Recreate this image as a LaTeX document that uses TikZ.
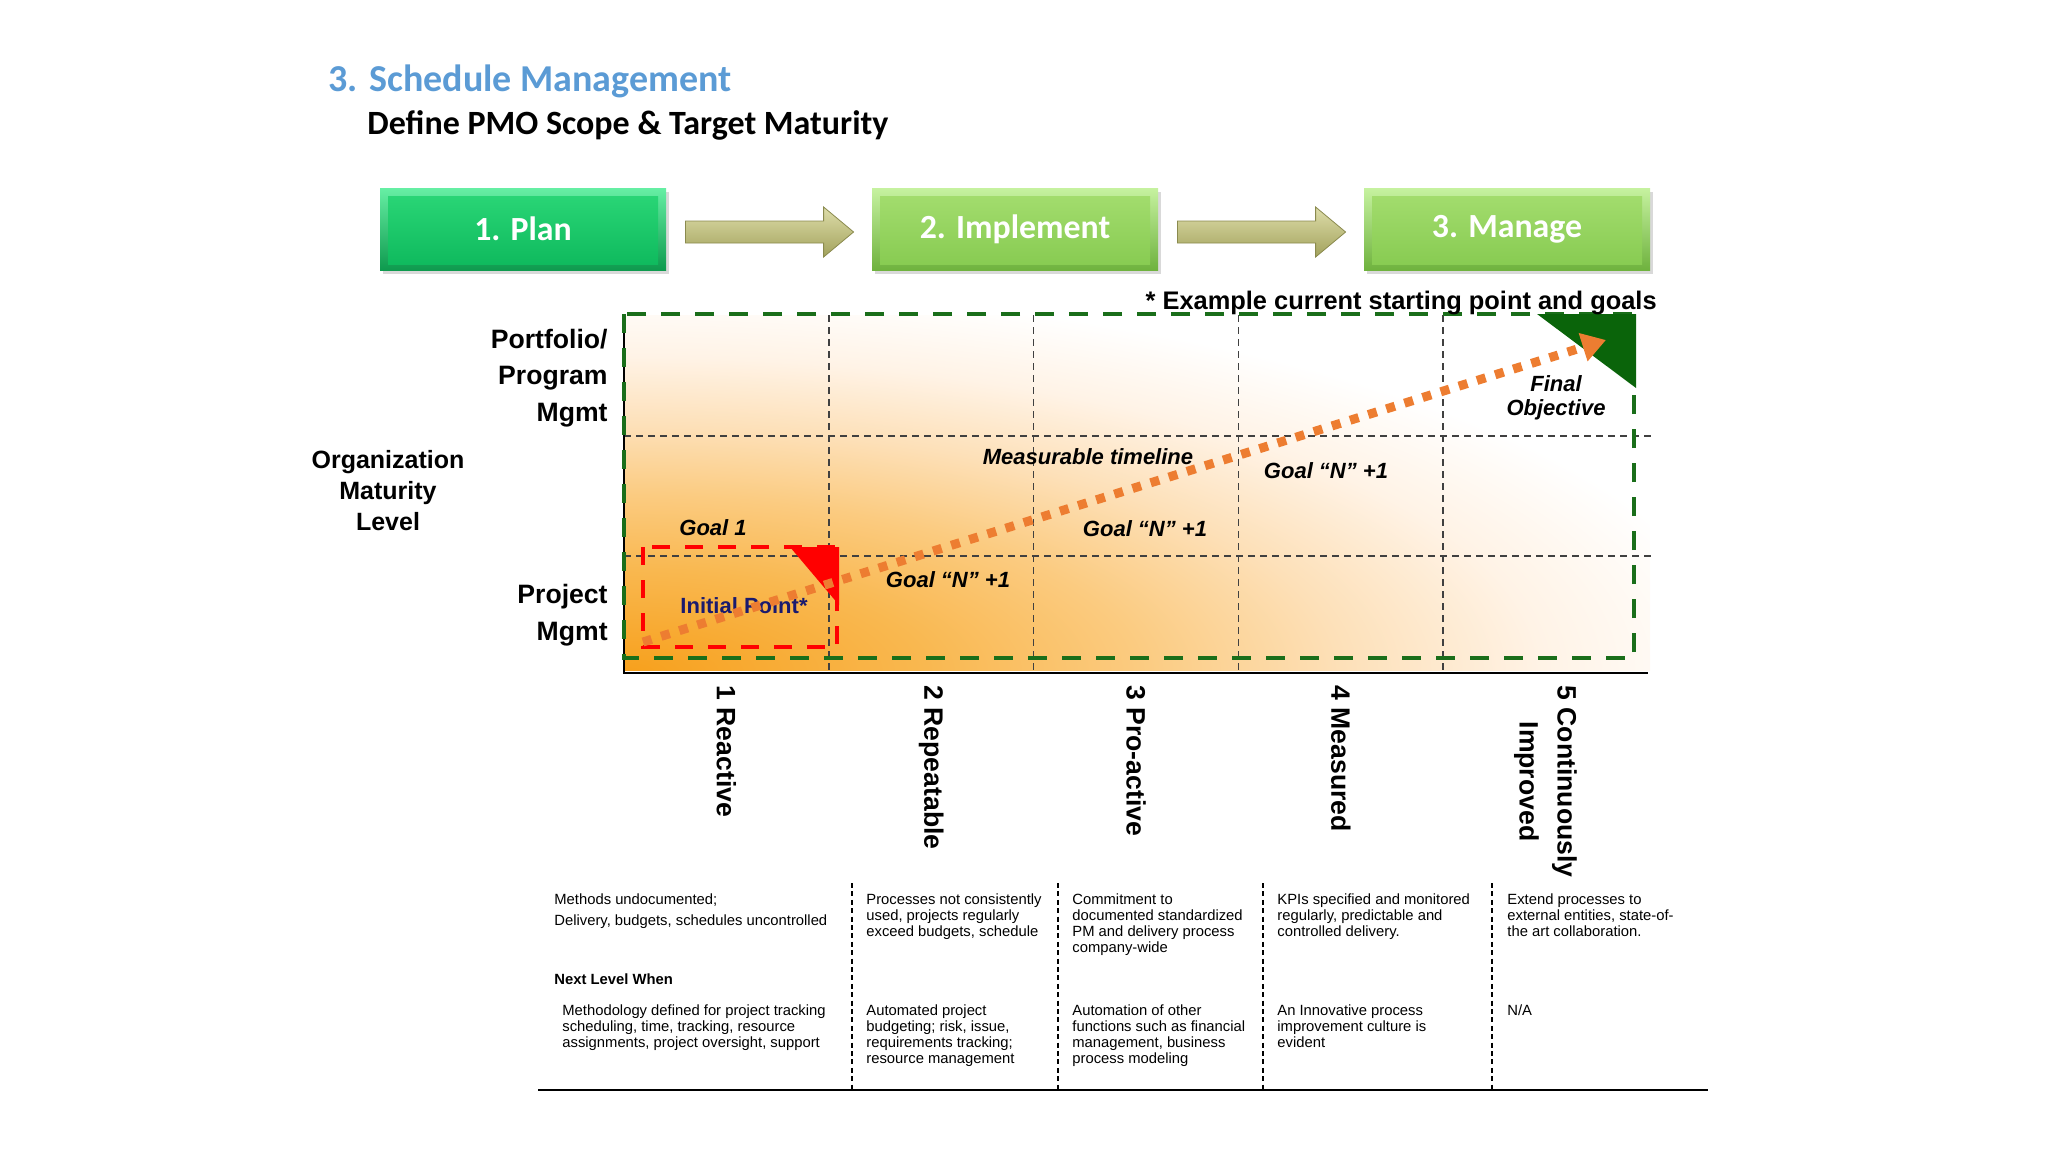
\documentclass[tikz,border=0pt]{standalone}
\usepackage{fontspec}
\setmainfont{Liberation Sans}
\newfontfamily\calibri{Carlito}
\usetikzlibrary{calc,arrows.meta,shadows}

\definecolor{titleblue}{HTML}{5B9BD5}
\definecolor{planRim}{HTML}{66EFA4}
\definecolor{planRimBot}{HTML}{0E9A4E}
\definecolor{planTop}{HTML}{2CD878}
\definecolor{planBot}{HTML}{0DB85C}
\definecolor{stageRim}{HTML}{C6F2A0}
\definecolor{stageRimBot}{HTML}{6FB23E}
\definecolor{stageTop}{HTML}{A5DE70}
\definecolor{stageBot}{HTML}{86CA50}
\definecolor{khakiTop}{HTML}{DEDDAA}
\definecolor{khakiBot}{HTML}{A2A25C}
\definecolor{khakiLine}{HTML}{8A8A4E}
\definecolor{goalgreen}{HTML}{1A6E1A}
\definecolor{objgreen}{HTML}{0A640A}
\definecolor{pathorange}{HTML}{ED7D31}
\definecolor{glowA}{HTML}{F7A01C}
\definecolor{glowB}{HTML}{F9B850}
\definecolor{glowC}{HTML}{FBCB80}
\definecolor{glowD}{HTML}{FDE0B8}
\definecolor{glowE}{HTML}{FFF3E6}
\definecolor{navytext}{HTML}{1A1A6E}

\pgfdeclareradialshading{maturityglow}{\pgfpoint{0bp}{0bp}}{color(0bp)=(glowA); color(6.75bp)=(glowB); color(11.5bp)=(glowC); color(16bp)=(glowD); color(20.5bp)=(glowE); color(25bp)=(white); color(50bp)=(white)}

% block arrow between two stage boxes
\newcommand{\stagearrow}[2]{%
  \shade[top color=khakiTop, bottom color=khakiBot, draw=khakiLine, line width=0.4pt]
    ($(#1.east)+(19,-8)$) -- ($(#2.west)+(-48,-8)$) -- ($(#2.west)+(-48,-22)$)
    -- ($(#2.west)+(-18,3)$) -- ($(#2.west)+(-48,28)$) -- ($(#2.west)+(-48,14)$)
    -- ($(#1.east)+(19,14)$) -- cycle;}

\begin{document}
\begin{tikzpicture}[x=0.5pt, y=-0.5pt,
    stagebox/.style={minimum width=143pt, minimum height=41pt, inner sep=0pt,
        text=white, font=\calibri\bfseries\fontsize{16.9}{20}\selectfont,
        drop shadow={opacity=0.3, shadow xshift=1.5pt, shadow yshift=-1.8pt}},
    planfill/.style={top color=planRim, bottom color=planRimBot,
        path picture={\shade[top color=planTop, bottom color=planBot]
            ($(path picture bounding box.north west)+(8,8)$) rectangle
            ($(path picture bounding box.south east)+(-8,-6)$);}},
    stagefill/.style={top color=stageRim, bottom color=stageRimBot,
        path picture={\shade[top color=stageTop, bottom color=stageBot]
            ($(path picture bounding box.north west)+(8,8)$) rectangle
            ($(path picture bounding box.south east)+(-8,-6)$);}},
    gridline/.style={dash pattern=on 3.3pt off 2.7pt, line width=0.8pt, black!75},
    goalframe/.style={draw=goalgreen, line width=2.3pt, dash pattern=on 9.7pt off 7.3pt},
    startframe/.style={draw=red, line width=2.3pt, dash pattern=on 9pt off 7.5pt},
    timeline/.style={pathorange, line width=4.5pt, dash pattern=on 4.5pt off 5pt,
        -{Triangle[length=12pt, width=14pt]}},
    sidelabel/.style={anchor=east, align=right, inner sep=0pt, font=\bfseries\fontsize{13.3}{18.3}\selectfont},
    levellabel/.style={rotate=-90, anchor=west, align=center, inner sep=0pt,
        font=\bfseries\fontsize{13.3}{19}\selectfont},
    goaltext/.style={inner sep=0pt, font=\bfseries\itshape\fontsize{11}{12}\selectfont},
    cell/.style={anchor=north west, align=left, inner sep=0pt, font=\fontsize{7.4}{8.1}\selectfont},
    celldivider/.style={line width=0.9pt, dash pattern=on 2.5pt off 1.7pt}]

    \useasboundingbox (0,0) rectangle (2048,1152);

    % heading
    \node[anchor=west, inner sep=0pt, text=titleblue,
        font=\calibri\bfseries\fontsize{19}{22}\selectfont] (title) at (328,81) {3. Schedule Management};
    \node[anchor=west, inner sep=0pt,
        font=\calibri\bfseries\fontsize{17}{20}\selectfont] (subtitle) at (367,125) {Define PMO Scope \& Target Maturity};

    % stages
    \node[stagebox, planfill] (plan) at (523,229) {1. Plan};
    \node[stagebox, stagefill] (implement) at (1015,229) {2. Implement};
    \node[stagebox, stagefill] (manage) at (1507,229) {3. Manage};
    \stagearrow{plan}{implement}
    \stagearrow{implement}{manage}

    % maturity chart
    \coordinate (SW) at (624,673);
    \coordinate (NE) at (1648,315);
    \begin{scope}
        \clip (624,315) rectangle (1650,670);
        \fill[white] (624,315) rectangle (1650,670);
        \shade[shading=maturityglow] (SW) ellipse [x radius=560pt, y radius=193pt];
    \end{scope}

    \foreach \i in {1,...,4}
        \draw[gridline] ({624+204.8*\i},315) -- ({624+204.8*\i},673);
    \foreach \y in {436,556}
        \draw[gridline] (624,\y) -- (1652,\y);
    \draw[line width=1.2pt] (624,315) -- (SW) -- (SW -| NE);

    \draw[goalframe] (624,314) rectangle (1634,658);
    \fill[objgreen] (1537,314) -- (1636,314) -- (1636,388) -- cycle;
    \draw[startframe] (643,547) rectangle (837,647);
    \fill[red] (790,547) -- (839,547) -- (839,605) -- cycle;

    \node[anchor=east, inner sep=0pt, font=\bfseries\fontsize{12.7}{15}\selectfont]
        (example) at (1657,303) {* Example current starting point and goals};

    \node[goaltext] (goal1) at (713,528) {Goal 1};
    \node[inner sep=0pt, text=navytext, font=\bfseries\fontsize{11}{12}\selectfont]
        (initial) at (744,606) {Initial Point*};
    \node[goaltext] (goalA) at (948,580) {Goal “N” +1};
    \node[goaltext] (goalB) at (1145,529) {Goal “N” +1};
    \node[goaltext] (goalC) at (1326,471) {Goal “N” +1};
    \node[goaltext] (measurable) at (1088,457) {Measurable timeline};
    \node[goaltext, align=center] (final) at (1556,398) {Final\\Objective};

    \coordinate (start) at (643,642);
    \coordinate (target) at (1606,340);
    \draw[timeline] (start) -- (target);

    % axis labels
    \node[sidelabel] (portfolio) at (608,378) {Portfolio/\\Program\\Mgmt};
    \node[sidelabel] (project) at (608,615) {Project\\Mgmt};
    \node[align=center, inner sep=0pt, font=\bfseries\fontsize{12.5}{15.5}\selectfont]
        (orglevel) at (388,491) {Organization\\Maturity\\Level};

    \foreach \lab [count=\i] in {1 Reactive, 2 Repeatable, 3 Pro-active, 4 Measured}
        \node[levellabel] (level\i) at ({624+204.8*\i-102.4},685) {\lab};
    \node[levellabel] (level5) at (1545.6,685) {5 Continuously\\Improved};

    % level descriptions
    \node[cell] (desc1) at (554,893) {Methods undocumented;\\[2.4pt]Delivery, budgets, schedules uncontrolled};
    \node[cell, font=\bfseries\fontsize{7.4}{8.1}\selectfont] (nextlevel) at (554,973) {Next Level When};
    \node[cell] (next1) at (562,1004) {Methodology defined for project tracking\\scheduling, time, tracking, resource\\assignments, project oversight, support};
    \node[cell] (desc2) at (866,893) {Processes not consistently\\used, projects regularly\\exceed budgets, schedule};
    \node[cell] (next2) at (866,1004) {Automated project\\budgeting; risk, issue,\\requirements tracking;\\resource management};
    \node[cell] (desc3) at (1072,893) {Commitment to\\documented standardized\\PM and delivery process\\company-wide};
    \node[cell] (next3) at (1072,1004) {Automation of other\\functions such as financial\\management, business\\process modeling};
    \node[cell] (desc4) at (1277,893) {KPIs specified and monitored\\regularly, predictable and\\controlled delivery.};
    \node[cell] (next4) at (1277,1004) {An Innovative process\\improvement culture is\\evident};
    \node[cell] (desc5) at (1507,893) {Extend processes to\\external entities, state-of-\\the art collaboration.};
    \node[cell] (next5) at (1507,1004) {N/A};

    \foreach \x in {852,1058,1263,1492}
        \draw[celldivider] (\x,883) -- (\x,1090);
    \draw[line width=1.2pt] (538,1090) -- (1708,1090);
\end{tikzpicture}
\end{document}
